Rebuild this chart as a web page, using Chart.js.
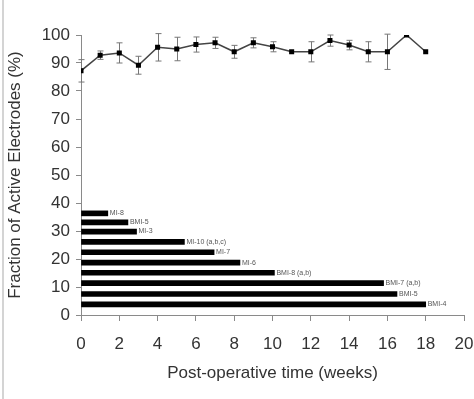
<!DOCTYPE html>
<html>
<head>
<meta charset="utf-8">
<script src="https://cdn.jsdelivr.net/npm/chart.js@4/dist/chart.umd.min.js"></script>
<style>
  html, body { margin: 0; padding: 0; background: #fff; }
  #wrap { width: 474px; height: 399px; }
</style>
</head>
<body>
<div id="wrap"><canvas id="chart" width="474" height="399"></canvas></div>
<script>
// weekly fraction of active electrodes (mean +/- error)
const weeks = [0, 1, 2, 3, 4, 5, 6, 7, 8, 9, 10, 11, 12, 13, 14, 15, 16, 17, 18];
const activePct = [87.2, 92.8, 93.6, 89.2, 95.6, 95, 96.6, 97.2, 94, 97.2, 95.8, 94, 94, 98, 96.4, 94, 94, 100, 94];
const activeErr = [4, 1.5, 3.6, 3.2, 4.9, 4.2, 2.7, 2, 2.3, 1.8, 1.8, 0, 3.6, 2, 1.7, 3.6, 6.3, 0, 0];

// implant durations per subject (horizontal bars)
const subjects = ["BMI-4", "BMI-5", "BMI-7 (a,b)", "BMI-8 (a,b)", "MI-6", "MI-7", "MI-10 (a,b,c)", "MI-3", "BMI-5", "MI-8"];
const barLevels = [3.8, 7.5, 11.4, 15.1, 18.7, 22.4, 26.1, 29.8, 33.1, 36.3];
const durationWeeks = [18, 16.5, 15.8, 10.1, 8.3, 6.95, 5.4, 2.9, 2.45, 1.4];

const xTicks = { min: 0, max: 20, step: 2 };
const yTicks = { min: 0, max: 100, step: 10 };

const textColor = "#333";
const axisColor = "#8a8a8a";

const extras = {
  id: "extras",
  beforeDraw(chart) {
    const ctx = chart.ctx;
    ctx.save();
    ctx.strokeStyle = "#d4d4d4";
    ctx.lineWidth = 2;
    ctx.beginPath();
    ctx.moveTo(3, 0);
    ctx.lineTo(3, chart.height);
    ctx.stroke();
    ctx.restore();
  },
  beforeDatasetsDraw(chart) {
    const { ctx, scales: { x, y } } = chart;
    ctx.save();
    ctx.strokeStyle = "#777";
    ctx.lineWidth = 1;
    weeks.forEach((w, i) => {
      const e = activeErr[i];
      if (!e) return;
      const px = Math.round(x.getPixelForValue(w)) + 0.5;
      const top = y.getPixelForValue(activePct[i] + e);
      const bot = y.getPixelForValue(activePct[i] - e);
      ctx.beginPath();
      ctx.moveTo(px, top);
      ctx.lineTo(px, bot);
      ctx.moveTo(px - 3, top);
      ctx.lineTo(px + 3, top);
      ctx.moveTo(px - 3, bot);
      ctx.lineTo(px + 3, bot);
      ctx.stroke();
    });
    ctx.restore();
  },
  afterDatasetsDraw(chart) {
    const { ctx, scales: { x, y } } = chart;
    ctx.save();
    ctx.fillStyle = "#555";
    ctx.font = "7px 'Liberation Sans', Arial, sans-serif";
    ctx.textBaseline = "middle";
    subjects.forEach((name, i) => {
      ctx.fillText(name, x.getPixelForValue(durationWeeks[i]) + 2, y.getPixelForValue(barLevels[i]));
    });
    ctx.restore();
  },
};

const axisFont = { family: "'Liberation Sans', Arial, sans-serif", size: 17 };

new Chart(document.getElementById("chart"), {
  type: "bar",
  data: {
    datasets: [
      {
        type: "line",
        data: weeks.map((w, i) => ({ x: w, y: activePct[i] })),
        borderColor: "#444",
        borderWidth: 1.5,
        pointStyle: "rect",
        pointRadius: 2.5,
        pointBackgroundColor: "#000",
        pointBorderColor: "#000",
        tension: 0,
      },
      {
        type: "bar",
        indexAxis: "y",
        data: barLevels.map((lvl, i) => ({ x: durationWeeks[i], y: lvl })),
        backgroundColor: "#000",
        borderColor: "#000",
        borderWidth: 0,
        barThickness: 5,
        grouped: false,
      },
    ],
  },
  options: {
    responsive: false,
    animation: false,
    layout: { padding: { left: 5, top: 35, right: 0, bottom: 15 } },
    plugins: { legend: { display: false }, tooltip: { enabled: false } },
    scales: {
      x: {
        type: "linear",
        offset: false,
        min: xTicks.min,
        max: xTicks.max,
        afterFit: (s) => { s.height = 69; s.paddingRight = 10; },
        ticks: { stepSize: xTicks.step, color: textColor, font: axisFont, padding: 13, maxRotation: 0 },
        grid: { drawOnChartArea: false, color: axisColor, tickLength: 6, offset: false },
        border: { color: axisColor },
        title: { display: true, text: "Post-operative time (weeks)", color: textColor, font: axisFont, padding: { top: 4, bottom: 0 } },
      },
      y: {
        type: "linear",
        offset: false,
        min: yTicks.min,
        max: yTicks.max,
        afterFit: (s) => { s.width = 76; },
        ticks: { stepSize: yTicks.step, color: textColor, font: axisFont, padding: 6 },
        grid: { drawOnChartArea: false, color: axisColor, tickLength: 5, offset: false },
        border: { color: axisColor },
        title: { display: true, text: "Fraction of Active Electrodes (%)", color: textColor, font: axisFont, padding: { top: 0, bottom: 4 } },
      },
    },
  },
  plugins: [extras],
});
</script>
</body>
</html>
